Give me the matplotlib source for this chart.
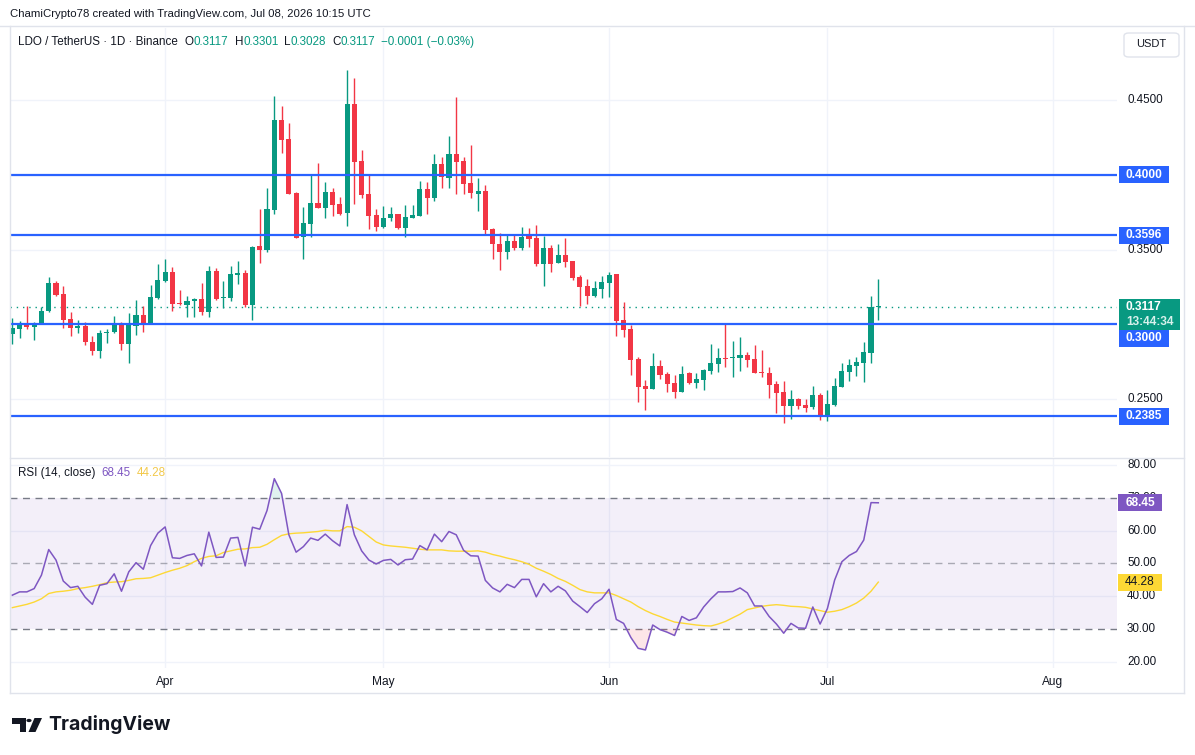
import numpy as np
import pandas as pd
import matplotlib
matplotlib.use("Agg")
import matplotlib.pyplot as plt
from matplotlib.lines import Line2D
from matplotlib.patches import Rectangle, Polygon, Circle, FancyBboxPatch
from matplotlib.transforms import blended_transform_factory

# LDO/USDT daily candles, 2026-03-11 .. 2026-07-08
dates = pd.date_range("2026-03-11", periods=120, freq="D")

opens = [0.2937, 0.2971, 0.2995, 0.2984, 0.3003, 0.3091, 0.3276, 0.3203, 0.3035, 0.2977,
         0.2991, 0.2882, 0.2823, 0.2944, 0.2951, 0.3006, 0.2868, 0.2991, 0.3062, 0.3006,
         0.3176, 0.3290, 0.3350, 0.3142, 0.3131, 0.3153, 0.3169, 0.3084, 0.3356, 0.3176,
         0.3176, 0.3332, 0.3343, 0.3129, 0.3524, 0.3499, 0.3767, 0.4367, 0.4239, 0.3878,
         0.3586, 0.3673, 0.3811, 0.3780, 0.3885, 0.3805, 0.3747, 0.4474, 0.4092, 0.3872,
         0.3731, 0.3653, 0.3713, 0.3738, 0.3646, 0.3713, 0.3727, 0.3905, 0.3847, 0.4072,
         0.3981, 0.4139, 0.4092, 0.3945, 0.3874, 0.3892, 0.3637, 0.3539, 0.3486, 0.3557,
         0.3513, 0.3591, 0.3577, 0.3405, 0.3510, 0.3412, 0.3461, 0.3423, 0.3316, 0.3256,
         0.3192, 0.3238, 0.3278, 0.3336, 0.3029, 0.2969, 0.2768, 0.2587, 0.2565, 0.2721,
         0.2667, 0.2607, 0.2549, 0.2674, 0.2609, 0.2630, 0.2687, 0.2734, 0.2774, 0.2774,
         0.2774, 0.2794, 0.2768, 0.2681, 0.2674, 0.2600, 0.2547, 0.2455, 0.2500, 0.2460,
         0.2449, 0.2527, 0.2389, 0.2462, 0.2583, 0.2681, 0.2721, 0.2741, 0.2808, 0.3117]
highs = [0.3040, 0.3022, 0.3122, 0.3018, 0.3113, 0.3316, 0.3290, 0.3256, 0.3082, 0.3029,
         0.3013, 0.2922, 0.2962, 0.2968, 0.3055, 0.3015, 0.3075, 0.3162, 0.3122, 0.3263,
         0.3403, 0.3437, 0.3383, 0.3229, 0.3189, 0.3176, 0.3276, 0.3390, 0.3376, 0.3290,
         0.3390, 0.3423, 0.3363, 0.3524, 0.3771, 0.3912, 0.4527, 0.4460, 0.4347, 0.3885,
         0.3785, 0.3996, 0.4079, 0.3952, 0.3912, 0.3852, 0.4701, 0.4650, 0.4166, 0.4005,
         0.3771, 0.3791, 0.3785, 0.3738, 0.3798, 0.3798, 0.3958, 0.3952, 0.4139, 0.4119,
         0.4260, 0.4520, 0.4119, 0.4199, 0.3979, 0.3932, 0.3646, 0.3611, 0.3597, 0.3604,
         0.3651, 0.3644, 0.3664, 0.3591, 0.3530, 0.3537, 0.3577, 0.3423, 0.3328, 0.3301,
         0.3290, 0.3323, 0.3350, 0.3336, 0.3149, 0.2995, 0.2781, 0.2627, 0.2808, 0.2761,
         0.2683, 0.2661, 0.2721, 0.2681, 0.2674, 0.2701, 0.2868, 0.2841, 0.3009, 0.2888,
         0.2915, 0.2815, 0.2861, 0.2828, 0.2714, 0.2621, 0.2621, 0.2560, 0.2507, 0.2500,
         0.2587, 0.2540, 0.2560, 0.2641, 0.2741, 0.2768, 0.2781, 0.2881, 0.3189, 0.3301]
lows = [0.2870, 0.2910, 0.2971, 0.2895, 0.3000, 0.3084, 0.3191, 0.2977, 0.2924, 0.2944,
        0.2864, 0.2797, 0.2777, 0.2877, 0.2942, 0.2830, 0.2743, 0.2930, 0.2951, 0.3006,
        0.3169, 0.3283, 0.3091, 0.3131, 0.3051, 0.3051, 0.3064, 0.3051, 0.3162, 0.3111,
        0.3158, 0.3269, 0.3118, 0.3031, 0.3412, 0.3486, 0.3740, 0.4148, 0.3874, 0.3579,
        0.3437, 0.3586, 0.3780, 0.3713, 0.3727, 0.3733, 0.3660, 0.3807, 0.3847, 0.3640,
        0.3626, 0.3646, 0.3693, 0.3638, 0.3586, 0.3713, 0.3727, 0.3740, 0.3825, 0.3914,
        0.3914, 0.3874, 0.3874, 0.3847, 0.3760, 0.3606, 0.3439, 0.3365, 0.3439, 0.3499,
        0.3499, 0.3519, 0.3392, 0.3258, 0.3352, 0.3412, 0.3385, 0.3299, 0.3125, 0.3138,
        0.3183, 0.3178, 0.3185, 0.2924, 0.2917, 0.2661, 0.2480, 0.2429, 0.2565, 0.2636,
        0.2549, 0.2509, 0.2549, 0.2603, 0.2576, 0.2563, 0.2670, 0.2681, 0.2714, 0.2650,
        0.2687, 0.2714, 0.2674, 0.2650, 0.2509, 0.2409, 0.2342, 0.2369, 0.2435, 0.2415,
        0.2435, 0.2362, 0.2355, 0.2455, 0.2583, 0.2623, 0.2654, 0.2616, 0.2741, 0.3028]
closes = [0.2975, 0.3006, 0.2982, 0.3011, 0.3088, 0.3276, 0.3198, 0.3031, 0.2977, 0.2991,
          0.2884, 0.2823, 0.2942, 0.2951, 0.3006, 0.2868, 0.2999, 0.3062, 0.3009, 0.3182,
          0.3296, 0.3350, 0.3138, 0.3133, 0.3156, 0.3169, 0.3084, 0.3356, 0.3169, 0.3182,
          0.3336, 0.3343, 0.3129, 0.3517, 0.3499, 0.3771, 0.4367, 0.4235, 0.3874, 0.3579,
          0.3678, 0.3811, 0.3780, 0.3885, 0.3800, 0.3740, 0.4474, 0.4088, 0.3867, 0.3727,
          0.3653, 0.3711, 0.3738, 0.3644, 0.3718, 0.3731, 0.3905, 0.3847, 0.4072, 0.3988,
          0.4139, 0.4088, 0.3941, 0.3880, 0.3892, 0.3633, 0.3539, 0.3486, 0.3557, 0.3513,
          0.3584, 0.3573, 0.3405, 0.3510, 0.3406, 0.3461, 0.3419, 0.3312, 0.3252, 0.3192,
          0.3243, 0.3283, 0.3330, 0.3024, 0.2964, 0.2761, 0.2583, 0.2569, 0.2721, 0.2663,
          0.2603, 0.2549, 0.2667, 0.2609, 0.2634, 0.2694, 0.2741, 0.2774, 0.2768, 0.2781,
          0.2794, 0.2761, 0.2674, 0.2674, 0.2594, 0.2542, 0.2455, 0.2500, 0.2455, 0.2442,
          0.2527, 0.2395, 0.2467, 0.2587, 0.2687, 0.2728, 0.2748, 0.2815, 0.3118, 0.3117]

rsi = [40.3, 41.3, 41.3, 42.3, 46.4, 54.2, 51.0, 44.6, 42.6, 43.0,
       39.7, 37.5, 43.3, 43.8, 46.8, 41.5, 47.4, 50.2, 48.2, 55.4,
       59.2, 61.1, 51.7, 51.5, 52.4, 52.9, 49.2, 59.5, 51.8, 51.9,
       57.7, 57.9, 49.2, 61.0, 60.4, 66.1, 75.8, 71.3, 58.7, 53.4,
       55.1, 57.7, 57.0, 58.9, 56.9, 55.3, 67.9, 58.7, 53.8, 51.0,
       49.8, 50.9, 51.2, 49.5, 51.1, 51.3, 55.4, 54.1, 58.9, 56.6,
       59.7, 58.7, 54.0, 52.3, 52.2, 44.8, 42.5, 41.3, 43.6, 42.6,
       45.1, 45.1, 39.8, 43.8, 41.3, 43.0, 41.6, 38.5, 36.8, 35.0,
       37.7, 39.2, 42.1, 32.9, 31.7, 27.4, 24.1, 23.6, 31.2, 29.8,
       29.0, 28.0, 33.8, 32.6, 33.4, 36.7, 39.2, 41.3, 41.3, 41.4,
       42.5, 41.0, 37.0, 37.0, 33.8, 31.5, 28.7, 31.7, 30.3, 30.2,
       36.7, 31.5, 36.2, 44.9, 50.5, 52.4, 53.6, 57.1, 68.5, 68.45]
rsi_ma = [36.5, 37.0, 37.5, 38.2, 39.2, 40.8, 41.3, 41.5, 41.8, 42.3,
          42.6, 43.0, 43.5, 44.1, 44.3, 44.4, 44.8, 45.3, 45.4, 45.6,
          46.4, 47.2, 47.9, 48.5, 49.3, 50.5, 51.5, 52.1, 52.3, 53.3,
          53.8, 54.3, 54.4, 54.8, 54.9, 55.8, 57.2, 58.5, 59.0, 59.2,
          59.3, 59.5, 59.7, 60.1, 59.9, 59.9, 61.2, 61.0, 59.9, 58.2,
          56.5, 55.6, 55.3, 55.1, 54.9, 54.6, 54.3, 54.1, 54.1, 54.1,
          53.8, 53.7, 53.7, 53.7, 53.8, 53.4, 52.7, 52.2, 51.6, 51.1,
          50.5, 49.7, 48.5, 47.6, 46.6, 45.4, 44.5, 43.3, 42.0, 41.3,
          41.0, 41.0, 41.0, 40.2, 39.2, 38.2, 36.8, 35.6, 34.6, 33.8,
          32.9, 32.1, 31.8, 31.5, 31.2, 31.0, 30.9, 31.5, 32.3, 33.4,
          34.5, 35.9, 36.4, 36.9, 37.2, 37.4, 37.2, 36.9, 36.8, 36.6,
          36.1, 35.6, 35.1, 35.4, 35.9, 36.8, 37.9, 39.4, 41.5, 44.28]

levels = [0.4000, 0.3596, 0.3000, 0.2385]
price_ticks = [0.25, 0.35, 0.45]
rsi_ticks = [20, 30, 40, 50, 60, 70, 80]
months = ["2026-04-01", "2026-05-01", "2026-06-01", "2026-07-01", "2026-08-01"]
month_labels = ["Apr", "May", "Jun", "Jul", "Aug"]
last_price = 0.3117
countdown = "13:44:34"

GREEN = "#089981"
RED = "#F23645"
BLUE = "#2962FF"
PURPLE = "#7E57C2"
YELLOW = "#FDD835"
TXT = "#131722"
GRID = "#F0F3FA"
FRAME = "#E0E3EB"

plt.rcParams["font.family"] = ["Liberation Sans", "DejaVu Sans"]

W, H = 1195, 755
fig = plt.figure(figsize=(W / 100, H / 100), dpi=100)
fig.patch.set_facecolor("white")


def fx(px):
    return px / W


def fy(py):
    return 1 - py / H


def tag(ypx, text, fc, tc, x0=1119, w=50, h=17, bold=True):
    # coloured price-scale tag, ypx = centre in pixels from the top
    fig.add_artist(Rectangle((fx(x0), fy(ypx + h / 2)), w / W, h / H,
                             transform=fig.transFigure, fc=fc, ec="none", zorder=10))
    fig.text(fx(x0 + w / 2), fy(ypx), text, color=tc, fontsize=8.6,
             weight="bold" if bold else "normal", ha="center", va="center", zorder=11)


x = np.arange(len(dates))
mx = [(pd.Timestamp(m) - dates[0]).days for m in months]
o, h, l, c = map(np.array, (opens, highs, lows, closes))
xlim = (-0.32, 151.8)

# ---------- price pane
ax = fig.add_axes([fx(10), fy(457), fx(1117) - fx(10), fy(28) - fy(457)])
ax.set_xlim(*xlim)
ax.set_ylim(0.2112, 0.4982)
ax.axis("off")
for m in mx:
    ax.axvline(m, color=GRID, lw=1, zorder=0)
for t in np.arange(0.25, 0.451, 0.05):
    ax.axhline(t, color=GRID, lw=1, zorder=0)

up = c >= o
cols = np.where(up, GREEN, RED)
ax.vlines(x, l, h, colors=cols, lw=1.0, zorder=3)
body_lo = np.minimum(o, c)
body_h = np.maximum(np.abs(c - o), 0.0007)
ax.bar(x, body_h, bottom=body_lo, width=0.7, color=cols, lw=0, zorder=4)

for lv in levels:
    ax.axhline(lv, color=BLUE, lw=1.6, zorder=5)
ax.axhline(last_price, color=GREEN, lw=1.0, ls=(0, (1, 3.5)), zorder=2)


def py_price(v):
    return H - ax.transData.transform((0, v))[1]


tp = blended_transform_factory(fig.transFigure, ax.transData)
for t in price_ticks:
    ax.text(fx(1127), t, f"{t:.4f}", transform=tp, va="center", ha="left",
            fontsize=8.4, color=TXT, clip_on=False)
for lv in levels:
    yp = py_price(lv)
    if lv == 0.3:
        yp += 14  # pushed below the last-price tag
    tag(yp, f"{lv:.4f}", BLUE, "white")

# last price tag
yl = py_price(last_price)
fig.add_artist(Rectangle((fx(1119), fy(yl + 23)), 61 / W, 31 / H,
                         transform=fig.transFigure, fc=GREEN, ec="none", zorder=10))
fig.text(fx(1126), fy(yl), f"{last_price:.4f}", color="white", weight="bold",
         fontsize=8.6, va="center", ha="left", zorder=11)
fig.text(fx(1126), fy(yl + 15), countdown, color="#D8F1EC", weight="bold",
         fontsize=8.6, va="center", ha="left", zorder=11)

# ---------- RSI pane
ar = fig.add_axes([fx(10), fy(668), fx(1117) - fx(10), fy(458) - fy(668)])
ar.set_xlim(*xlim)
ar.set_ylim(18.1, 82.1)
ar.axis("off")
for m in mx:
    ar.axvline(m, color=GRID, lw=1, zorder=0)
for t in (20, 40, 60, 80):
    ar.axhline(t, color=GRID, lw=1, zorder=0)
ar.axhspan(30, 70, color=PURPLE, alpha=0.09, lw=0, zorder=0)
for t in (30, 50, 70):
    ar.axhline(t, color="#787B86", lw=1, ls=(0, (5, 4)), zorder=1,
               alpha=1 if t != 50 else 0.6)
r = np.array(rsi)
ar.fill_between(x, r, 70, where=r > 70, interpolate=True, color=GREEN, alpha=0.12, lw=0)
ar.fill_between(x, r, 30, where=r < 30, interpolate=True, color=RED, alpha=0.12, lw=0)
ar.plot(x, rsi_ma, color=YELLOW, lw=1.0, zorder=3)
ar.plot(x, rsi, color=PURPLE, lw=1.1, zorder=4)

tr_r = blended_transform_factory(fig.transFigure, ar.transData)
for t in rsi_ticks:
    ar.text(fx(1127), t, f"{t:.2f}", transform=tr_r, va="center", ha="left",
            fontsize=8.4, color=TXT, clip_on=False)


def py_rsi(v):
    return H - ar.transData.transform((0, v))[1]


tag(py_rsi(rsi[-1]), f"{rsi[-1]:.2f}", PURPLE, "white", x0=1118, w=44)
tag(py_rsi(rsi_ma[-1]), f"{rsi_ma[-1]:.2f}", YELLOW, TXT, x0=1118, w=44, bold=False)

# time axis
tx = blended_transform_factory(ar.transData, fig.transFigure)
for m, lab in zip(mx, month_labels):
    ar.text(m, fy(682), lab, transform=tx, ha="center", va="center",
            fontsize=8.6, color=TXT, clip_on=False)

# ---------- frame
for (x0, y0, x1, y1) in [(0, 26, 1195, 26), (10, 693, 1184, 693), (10, 26, 10, 693),
                         (1184, 26, 1184, 693), (10, 457.5, 1184, 457.5)]:
    fig.add_artist(Line2D([fx(x0), fx(x1)], [fy(y0), fy(y1)], color=FRAME, lw=1))

fig.add_artist(FancyBboxPatch((fx(1124), fy(57)), fx(55), 24 / H,
                              boxstyle="round,pad=0,rounding_size=0.004",
                              transform=fig.transFigure, fc="white", ec=FRAME, lw=1))
fig.text(fx(1151), fy(44), "USDT", ha="center", va="center", fontsize=8, color=TXT)

# ---------- header / legends
fig.text(fx(10), fy(14), "ChamiCrypto78 created with TradingView.com, Jul 08, 2026 10:15 UTC",
         fontsize=8.2, color=TXT, va="center", ha="left")

renderer = fig.canvas.get_renderer()


def put_row(x0, ypx, pieces, size=8.4):
    xx = x0
    for text, color, gap in pieces:
        t = fig.text(fx(xx), fy(ypx), text, color=color, fontsize=size, va="center", ha="left")
        bb = t.get_window_extent(renderer)
        xx = bb.x1 + gap
    return xx


put_row(18, 42, [("LDO / TetherUS · 1D · Binance", TXT, 7),
                 ("O", TXT, 0), (f"{opens[-1]:.4f}", GREEN, 6),
                 ("H", TXT, 0), (f"{highs[-1]:.4f}", GREEN, 6),
                 ("L", TXT, 0), (f"{lows[-1]:.4f}", GREEN, 6),
                 ("C", TXT, 0), (f"{closes[-1]:.4f}", GREEN, 6),
                 ("\u22120.0001 (\u22120.03%)", GREEN, 0)])
put_row(18, 473, [("RSI (14, close)", TXT, 6), (f"{rsi[-1]:.2f}", PURPLE, 6),
                  (f"{rsi_ma[-1]:.2f}", "#F2C94C", 0)])

# ---------- TradingView logo
logo = "#131722"
fig.add_artist(Polygon([(fx(12), fy(718)), (fx(25.5), fy(718)), (fx(25.5), fy(732)),
                        (fx(19.5), fy(732)), (fx(19.5), fy(723.5)), (fx(12), fy(723.5))],
                       closed=True, transform=fig.transFigure, fc=logo, ec="none"))
fig.add_artist(Circle((fx(29), fy(720.5)), 2.6 / W, transform=fig.transFigure, fc=logo, ec="none"))
fig.add_artist(Polygon([(fx(34.5), fy(718)), (fx(42), fy(718)), (fx(35.5), fy(732)),
                        (fx(28.5), fy(732))],
                       closed=True, transform=fig.transFigure, fc=logo, ec="none"))
fig.text(fx(48), fy(724.5), "TradingView", fontsize=14, weight="bold", color=logo,
         family=["Inter", "DejaVu Sans"], va="center", ha="left")

fig.savefig("out.png", dpi=100, facecolor="white")
